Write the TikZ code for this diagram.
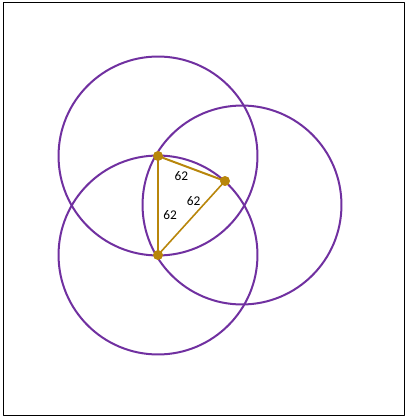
\documentclass[tikz,border=0pt]{standalone}
\usepackage{fontspec}
\setmainfont{Carlito}
\definecolor{ringcol}{RGB}{112,48,160}
\definecolor{goldcol}{RGB}{184,134,11}
\tikzset{
  ring/.style={draw=ringcol, line width=1.5pt},
  side/.style={draw=goldcol, line width=1.5pt},
  len/.style={font=\fontsize{10}{12}\selectfont, text=black}
}
\begin{document}
\begin{tikzpicture}[x=0.75pt, y=-0.75pt, line join=round, line cap=round]
	\useasboundingbox (0,0) rectangle (407,420);
	\draw[line width=0.75pt] (3,3) rectangle (404,415);
	\def\r{74.6pt}
	\coordinate (A) at (158,156);
	\coordinate (B) at (225,181);
	\coordinate (C) at (158,255);
	\coordinate (D) at (242,205);
	\foreach \c in {A,C,D} \draw[ring] (\c) circle[radius=\r];
	\draw[side] (A) -- node[len, pos=0.35, below, yshift=-1pt]{62} (B);
	\draw[side, line width=1.2pt] (B) -- node[len, pos=0.27, left, xshift=-1pt]{62} (C);
	\draw[side] (C) -- node[len, pos=0.4, right]{62} (A);
	\foreach \p in {A,B,C} \fill[goldcol] (\p) circle(3.75pt);
\end{tikzpicture}
\end{document}
